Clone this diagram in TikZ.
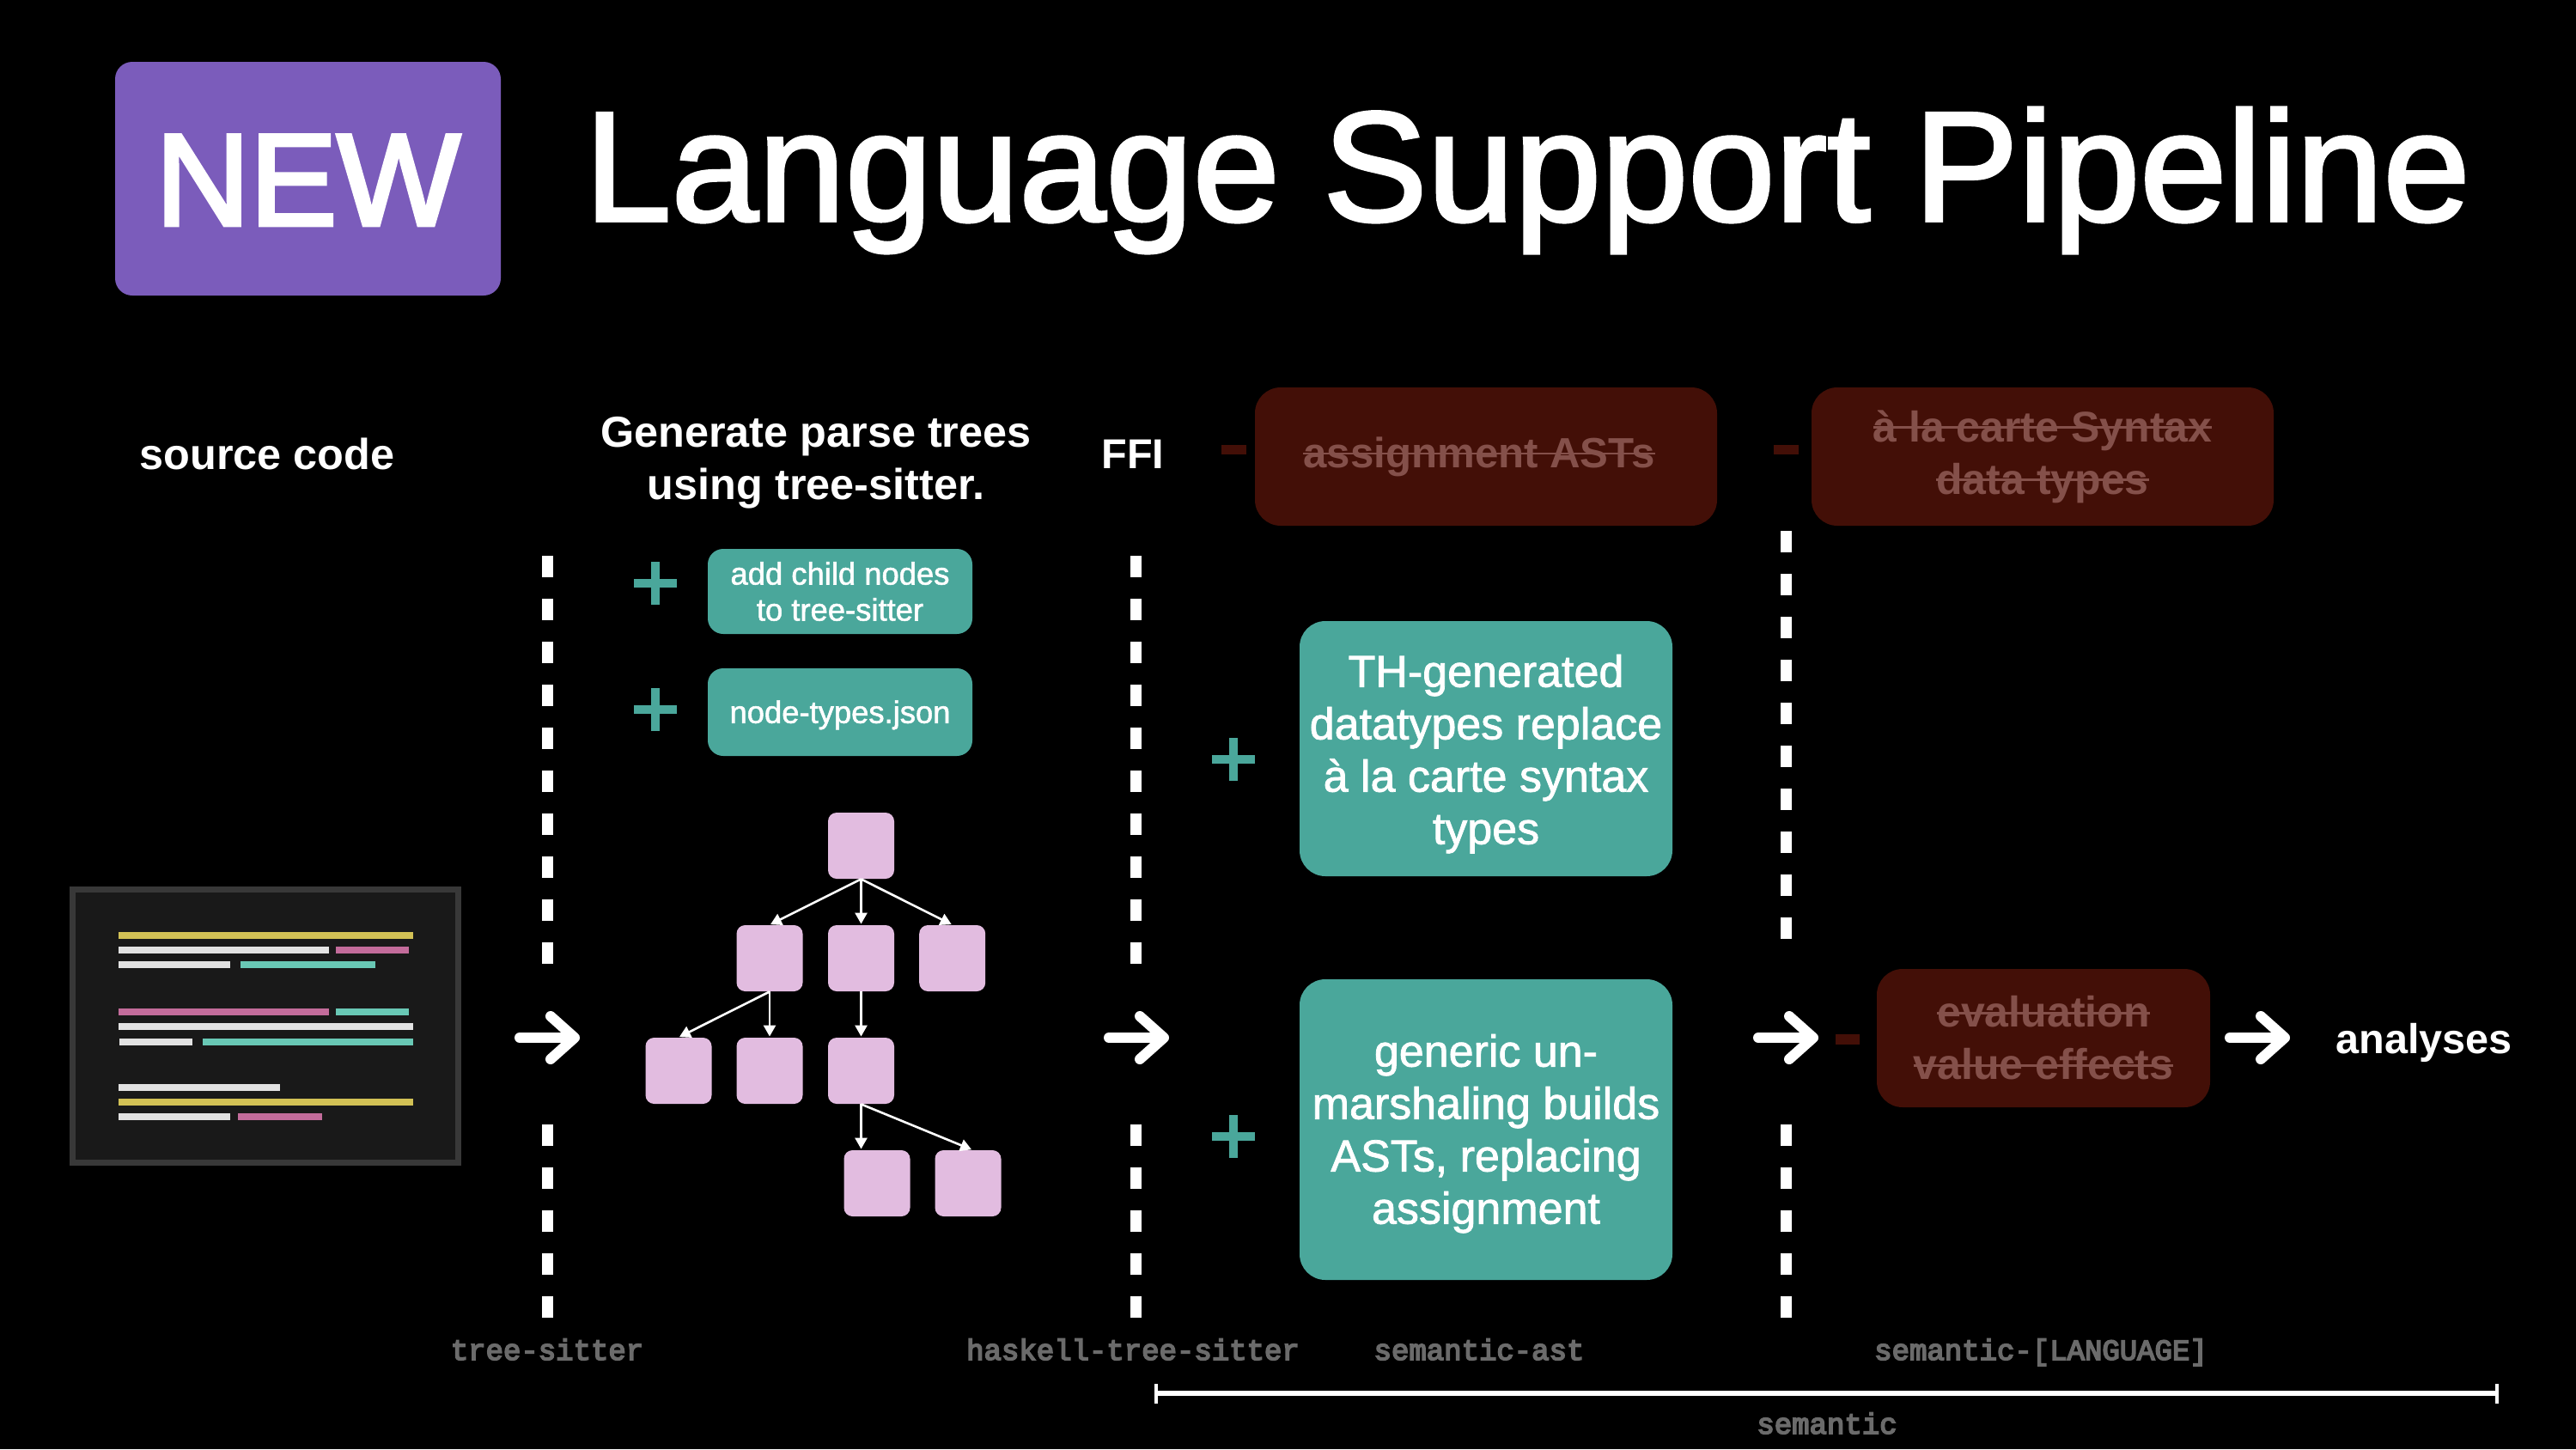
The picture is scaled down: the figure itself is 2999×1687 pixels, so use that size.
\documentclass[tikz,border=0pt]{standalone}
\usepackage{fontspec}
\usetikzlibrary{arrows.meta}
\setmainfont{Liberation Sans}
\newfontfamily\badgefont[FakeBold=3]{Liberation Sans}
\newfontfamily\titlefont[FakeBold=2]{Liberation Sans}
\newfontfamily\medfont[FakeBold=1.5]{Liberation Sans}
\newfontfamily\codefont[FakeBold=5]{Liberation Mono}
\newcommand\fsz[2]{\fontsize{#1}{#2}\selectfont}
\newsavebox\stkbox
\newcommand\stk[1]{\sbox\stkbox{#1}\leavevmode\rlap{\rule[0.30em]{\wd\stkbox}{1.4pt}}\usebox\stkbox}
\definecolor{tealbox}{HTML}{4AA79B}
\definecolor{redbox}{HTML}{430F07}
\definecolor{redtext}{HTML}{84504A}
\definecolor{purplebox}{HTML}{7B5CBB}
\definecolor{pinkbox}{HTML}{E2BCE0}
\definecolor{monogrey}{HTML}{6B6B6B}
\definecolor{cyell}{HTML}{D2C155}
\definecolor{cwhite}{HTML}{E2E2E2}
\definecolor{cpink}{HTML}{C36C9B}
\definecolor{cteal}{HTML}{69C8B5}
\tikzset{
  x=0.5pt,y=-0.5pt,
  treebox/.style={fill=pinkbox,minimum width=38.5pt,minimum height=38.5pt,rounded corners=5pt,inner sep=0pt},
  treearrow/.style={draw=white,line width=1.3pt,-{Triangle[length=6.5pt,width=7pt]},shorten >=0.5pt},
  smallteal/.style={fill=tealbox,rounded corners=9pt,minimum width=154pt,inner sep=0pt,text=white,align=center,font=\medfont\fsz{18.2}{21}},
  bigteal/.style={fill=tealbox,rounded corners=15pt,minimum width=217pt,inner sep=0pt,text=white,align=center,font=\medfont\fsz{26}{30.5}},
  redcard/.style={fill=redbox,rounded corners=15pt,minimum width=269pt,minimum height=80.5pt,inner sep=0pt,text=redtext,align=center,font=\bfseries\fsz{25}{30.5}},
  reddash/.style={fill=redbox},
  plussign/.style={draw=tealbox,line width=5pt},
  heading/.style={text=white,inner sep=0pt,align=center,font=\bfseries\fsz{25.2}{30.5}},
  sideheading/.style={text=white,inner sep=0pt,align=center,font=\bfseries\fsz{24.3}{30.5}},
  monolabel/.style={text=monogrey,inner sep=0pt,anchor=base,font=\codefont\fsz{17}{20}},
  dashline/.style={draw=white,line width=6.5pt,dash pattern=on 12.5pt off 12.5pt},
  bigarrow/.style={draw=white,line width=6pt,line cap=round,-{Straight Barb[round,length=14pt,width=25pt]}},
}
\newcommand\codebar[4]{\fill[#1] (#2,#4-3.75) rectangle (#3,#4+3.75);}
\newcommand\plusat[2]{\draw[plussign] (#1-25,#2) -- (#1+25,#2) (#1,#2-25) -- (#1,#2+25);}
\begin{document}
\begin{tikzpicture}
\useasboundingbox (0,0) rectangle (2999,1687);
\fill[black] (0,0) rectangle (2999,1687);

% header
\node[fill=purplebox,rounded corners=10pt,minimum width=224.5pt,minimum height=136pt,inner sep=0pt] (newbox) at (358.5,208) {};
\node[text=white,inner sep=0pt,anchor=base,font=\badgefont\fsz{76}{90}] (newtext) at (358.5,262) {NEW};
\node[text=white,inner sep=0pt,anchor=base west,font=\titlefont\fsz{91}{100}] (title) at (680,257) {Language Support Pipeline};

% headings
\node[heading] (source) at (311,528) {source code};
\node[heading] (gen) at (950,539) {Generate parse trees\\using tree-sitter.};
\node[sideheading] (ffi) at (1319,529) {FFI};
\node[sideheading] (analyses) at (2822,1214) {analyses};

% code screenshot
\draw[draw=black!78!white,fill=black!90!white,line width=3.5pt] (84.5,1035.5) rectangle (533.5,1353.5);
\codebar{cyell}{137.5}{481}{1089}
\codebar{cwhite}{137.5}{382.5}{1106}
\codebar{cpink}{390.5}{475.5}{1106}
\codebar{cwhite}{137.5}{268}{1123}
\codebar{cteal}{280}{437}{1123}
\codebar{cpink}{137.5}{382.5}{1178}
\codebar{cteal}{390.5}{475.5}{1178}
\codebar{cwhite}{137.5}{481}{1195}
\codebar{cwhite}{139}{224}{1213}
\codebar{cteal}{236}{481}{1213}
\codebar{cwhite}{137.5}{326}{1266}
\codebar{cyell}{137.5}{481}{1283}
\codebar{cwhite}{137.5}{268}{1300}
\codebar{cpink}{277}{374.5}{1300}

% dashed separators
\coordinate (d1a) at (637,647); \coordinate (d1b) at (637,1122);
\coordinate (d1c) at (637,1309); \coordinate (d1d) at (637,1534);
\coordinate (d2a) at (1322,647); \coordinate (d2b) at (1322,1122);
\coordinate (d2c) at (1322,1309); \coordinate (d2d) at (1322,1534);
\coordinate (d3a) at (2079,618); \coordinate (d3b) at (2079,1093);
\coordinate (d3c) at (2079,1309); \coordinate (d3d) at (2079,1534);
\draw[dashline] (d1a) -- (d1b);
\draw[dashline] (d1c) -- (d1d);
\draw[dashline] (d2a) -- (d2b);
\draw[dashline] (d2c) -- (d2d);
\draw[dashline] (d3a) -- (d3b);
\draw[dashline] (d3c) -- (d3d);

% big arrows
\coordinate (a1s) at (605,1208); \coordinate (a1e) at (675,1208);
\coordinate (a2s) at (1291,1208); \coordinate (a2e) at (1361,1208);
\coordinate (a3s) at (2047,1208); \coordinate (a3e) at (2117,1208);
\coordinate (a4s) at (2596,1208); \coordinate (a4e) at (2666,1208);
\draw[bigarrow] (a1s) -- (a1e);
\draw[bigarrow] (a2s) -- (a2e);
\draw[bigarrow] (a3s) -- (a3e);
\draw[bigarrow] (a4s) -- (a4e);

% teal boxes
\node[smallteal,minimum height=49.5pt] (child) at (978,688.5) {add child nodes\\to tree-sitter};
\node[smallteal,minimum height=51pt] (nodetypes) at (978,829) {\rule{0pt}{16.5pt}node-types.json};
\node[bigteal,minimum height=148.5pt] (th) at (1730,871.5) {\rule{0pt}{25pt}TH-generated\\datatypes replace\\à la carte syntax\\types};
\node[bigteal,minimum height=175pt] (generic) at (1730,1315) {\rule{0pt}{23.5pt}generic un-\\marshaling builds\\ASTs, replacing\\assignment};
\plusat{763}{679}
\plusat{763}{826}
\plusat{1436}{884}
\plusat{1436}{1323}

% removed (red) boxes
\fill[reddash] (1422,518) rectangle (1451,529);
\fill[reddash] (2065,518) rectangle (2094,529);
\fill[reddash] (2137,1204) rectangle (2165,1216);
\node[redcard] (assign) at (1730,531.5) {\fsz{24.6}{30.5}\stk{assignment ASTs}\hspace*{8pt}};
\node[redcard] (carte) at (2378,531.5) {\stk{à la carte Syntax}\\\stk{data types}};
\node[redcard,minimum width=194pt] (eval) at (2379,1208.5) {\stk{evaluation}\\\stk{value effects}};

% tree
\node[treebox] (t1) at (1002.5,984.5) {};
\node[treebox] (t21) at (896,1115.5) {};
\node[treebox] (t22) at (1002.5,1115.5) {};
\node[treebox] (t23) at (1108.7,1115.5) {};
\node[treebox] (t31) at (790,1246.5) {};
\node[treebox] (t32) at (896,1246.5) {};
\node[treebox] (t33) at (1002.5,1246.5) {};
\node[treebox] (t41) at (1021,1377.5) {};
\node[treebox] (t42) at (1127,1377.5) {};
\draw[treearrow] (t1.south) -- (t21.north);
\draw[treearrow] (t1.south) -- (t22.north);
\draw[treearrow] (t1.south) -- (t23.north);
\draw[treearrow] (t21.south) -- (t31.north);
\draw[treearrow] (t21.south) -- (t32.north);
\draw[treearrow] (t22.south) -- (t33.north);
\draw[treearrow] (t33.south) -- (t33.south |- t41.north);
\draw[treearrow] (t33.south) -- ([xshift=2.5pt]t42.north);

% repo labels
\node[monolabel] (l1) at (637,1583) {tree-sitter};
\node[monolabel] (l2) at (1319,1583) {haskell-tree-sitter};
\node[monolabel] (l3) at (1722,1583) {semantic-ast};
\node[monolabel] (l4) at (2376,1583) {semantic-[LANGUAGE]};
\node[monolabel] (l5) at (2127,1669) {semantic};

% bracket
\coordinate (bl) at (1346,1622); \coordinate (br) at (2907,1622);
\draw[white,line width=3pt] (bl) -- (br);
\draw[white,line width=2.4pt] (1346,1611) -- (1346,1634) (2907,1611) -- (2907,1634);
\end{tikzpicture}
\end{document}
